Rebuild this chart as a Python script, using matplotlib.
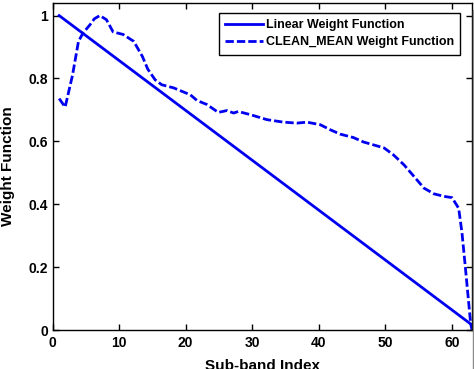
import matplotlib
matplotlib.use("Agg")
import matplotlib.pyplot as plt
from matplotlib.patches import Rectangle

# Data
linear_x = [1, 63]
linear_y = [1.0, 0.016]

clean_x = [1.0, 1.9, 3.0, 3.9, 4.6, 5.6, 6.3, 7.1, 8.1, 9.1, 10.6, 12.2, 13.5,
           14.3, 15.4, 16.4, 18.2, 20.7, 21.7, 23.2, 24.9, 26.2, 27.2, 27.9,
           29.7, 32.2, 34.7, 36.7, 38.2, 40.2, 41.7, 43.2, 45.2, 46.7, 49.8,
           51.2, 52.8, 54.3, 55.8, 57.3, 58.8, 60.0, 61.0, 61.5, 62.0, 62.8, 63.0]
clean_y = [0.736, 0.709, 0.81, 0.918, 0.945, 0.97, 0.99, 1.0, 0.987, 0.948,
           0.94, 0.918, 0.87, 0.83, 0.796, 0.78, 0.77, 0.748, 0.73, 0.717,
           0.692, 0.698, 0.69, 0.695, 0.685, 0.669, 0.661, 0.658, 0.661,
           0.653, 0.637, 0.623, 0.612, 0.598, 0.579, 0.557, 0.525, 0.488,
           0.451, 0.433, 0.425, 0.421, 0.387, 0.308, 0.20, 0.02, 0.0]

xticks = [0, 10, 20, 30, 40, 50, 60]
yticks = [0, 0.2, 0.4, 0.6, 0.8, 1.0]
ytick_labels = ["0", "0.2", "0.4", "0.6", "0.8", "1"]

plt.rcParams['font.family'] = ['Liberation Sans', 'DejaVu Sans']
plt.rcParams['font.weight'] = 'bold'

W, H = 474, 369
fig = plt.figure(figsize=(W / 100, H / 100), dpi=100)
fig.patch.set_facecolor('white')
left, right, top, bottom = 52.5, 472, 3, 330
ax = fig.add_axes([left / W, 1 - bottom / H, (right - left) / W, (bottom - top) / H])

ax.plot(linear_x, linear_y, color='#0000f0', lw=2.0, label='Linear Weight Function')
ax.plot(clean_x, clean_y, color='#0000f0', lw=2.0, linestyle=(0, (3, 1.1)),
        label='CLEAN_MEAN Weight Function')

ax.set_xlim(0, 63)
ax.set_ylim(0, 1.04)
ax.set_xticks(xticks)
ax.set_yticks(yticks)
ax.set_yticklabels(ytick_labels)
ax.tick_params(direction='in', length=4, width=1, top=True, right=True,
               labelsize=10)
ax.tick_params(axis='x', pad=4.5)
ax.tick_params(axis='y', pad=3)
for lab in ax.get_xticklabels() + ax.get_yticklabels():
    lab.set_fontweight('bold')
for s in ax.spines.values():
    s.set_linewidth(1.0)

ax.set_xlabel('Sub-band Index', fontsize=11, fontweight='bold', labelpad=6.5)
ax.set_ylabel('Weight Function', fontsize=11, fontweight='bold', labelpad=10)

leg = ax.legend(loc='upper right',
                bbox_to_anchor=((460 - left) / (right - left), 1 - (13 - top) / (bottom - top)),
                borderaxespad=0, fancybox=False, framealpha=1, edgecolor='black',
                prop={'size': 9, 'weight': 'bold'}, handlelength=3.0,
                handletextpad=0.25, labelspacing=0.4, borderpad=0.5)
leg.get_frame().set_linewidth(1.0)

fig.patches.append(Rectangle((472.5 / W, 0), 1 - 472.5 / W, 1 - 10 / H,
                             transform=fig.transFigure, color='#8a8a8a', zorder=0))

fig.savefig('out.png', dpi=100)
